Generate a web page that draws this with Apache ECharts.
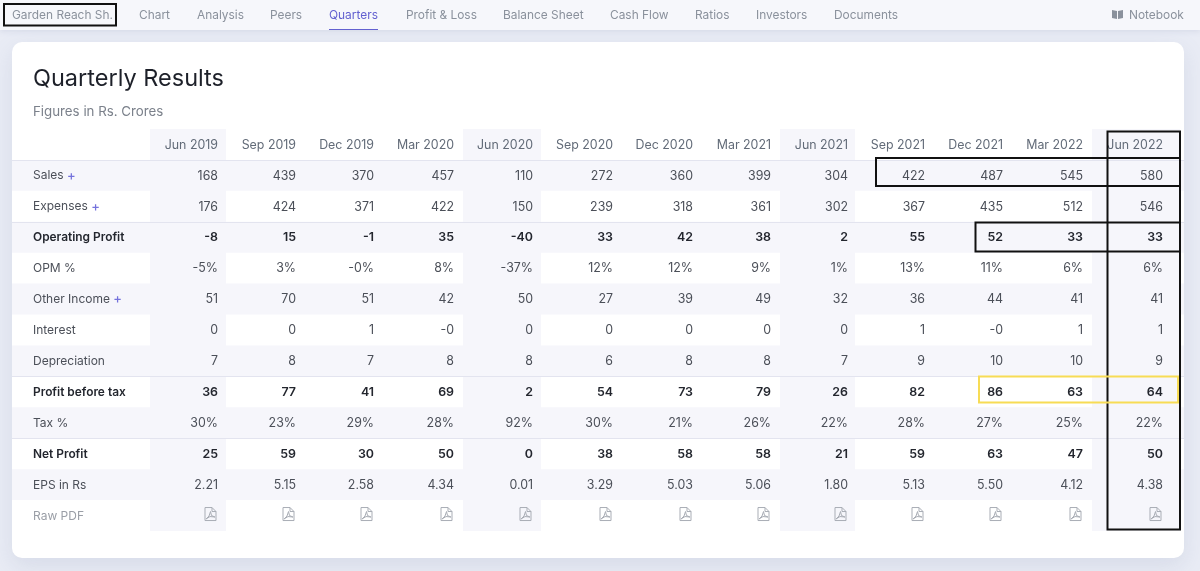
<!DOCTYPE html>
<html>
<head>
<meta charset="utf-8">
<style>
html, body { margin: 0; padding: 0; background: #e9ecf5; }
#main { width: 1200px; height: 571px; }
</style>
<script src="https://cdn.jsdelivr.net/npm/echarts@6/dist/echarts.min.js"></script>
</head>
<body>
<div id="main"></div>
<script>
// table content
const quarters = ["Jun 2019", "Sep 2019", "Dec 2019", "Mar 2020", "Jun 2020", "Sep 2020", "Dec 2020", "Mar 2021", "Jun 2021", "Sep 2021", "Dec 2021", "Mar 2022", "Jun 2022"];
const sales = ["168", "439", "370", "457", "110", "272", "360", "399", "304", "422", "487", "545", "580"];
const expenses = ["176", "424", "371", "422", "150", "239", "318", "361", "302", "367", "435", "512", "546"];
const operatingProfit = ["-8", "15", "-1", "35", "-40", "33", "42", "38", "2", "55", "52", "33", "33"];
const opmPct = ["-5%", "3%", "-0%", "8%", "-37%", "12%", "12%", "9%", "1%", "13%", "11%", "6%", "6%"];
const otherIncome = ["51", "70", "51", "42", "50", "27", "39", "49", "32", "36", "44", "41", "41"];
const interest = ["0", "0", "1", "-0", "0", "0", "0", "0", "0", "1", "-0", "1", "1"];
const depreciation = ["7", "8", "7", "8", "8", "6", "8", "8", "7", "9", "10", "10", "9"];
const profitBeforeTax = ["36", "77", "41", "69", "2", "54", "73", "79", "26", "82", "86", "63", "64"];
const taxPct = ["30%", "23%", "29%", "28%", "92%", "30%", "21%", "26%", "22%", "28%", "27%", "25%", "22%"];
const netProfit = ["25", "59", "30", "50", "0", "38", "58", "58", "21", "59", "63", "47", "50"];
const epsInRs = ["2.21", "5.15", "2.58", "4.34", "0.01", "3.29", "5.03", "5.06", "1.80", "5.13", "5.50", "4.12", "4.38"];
const rowNames = ["Sales", "Expenses", "Operating Profit", "OPM %", "Other Income", "Interest", "Depreciation", "Profit before tax", "Tax %", "Net Profit", "EPS in Rs", "Raw PDF"];
const rowValues = [sales, expenses, operatingProfit, opmPct, otherIncome, interest, depreciation, profitBeforeTax, taxPct, netProfit, epsInRs];
const navItems = ["Chart", "Analysis", "Peers", "Quarters", "Profit & Loss", "Balance Sheet", "Cash Flow", "Ratios", "Investors", "Documents"];

// layout
const navX = [139, 197, 270, 329, 406, 503, 610, 695, 756, 834];
const colRight = [218, 296, 374, 454, 533, 613, 693, 771, 848, 925, 1003, 1083, 1163];
const bands = [[150, 226], [463, 541], [780, 855], [1092, 1180]];
const stripedRows = ["Sales", "Operating Profit", "Other Income", "Depreciation", "Tax %", "EPS in Rs"];
const boldRows = ["Operating Profit", "Profit before tax", "Net Profit"];
const plusRows = ["Sales", "Expenses", "Other Income"];
const ruleAbove = ["Sales", "Operating Profit", "Profit before tax", "Net Profit"];
const yCats = ["header"].concat(rowNames);

const FONT = "Inter, 'Noto Sans', sans-serif";

function cellData() {
    let out = [];
    quarters.forEach((q, c) => out.push([c, "header", q]));
    rowValues.forEach((vals, r) => {
        vals.forEach((v, c) => out.push([c, rowNames[r], v]));
    });
    return out;
}

function renderStripe(params, api) {
    const p = api.coord([12, api.value(0)]);
    const h = api.size([0, 1])[1];
    return {type: "rect", shape: {x: 12, y: p[1] - h / 2, width: 1172, height: h}, style: {fill: "#f6f6fb"}};
}

function renderBand(params, api) {
    const top = api.coord([api.value(0), 0]);
    const bottom = api.coord([api.value(1), yCats.length - 1]);
    const h = api.size([0, 1])[1];
    return {
        type: "rect",
        shape: {x: top[0], y: top[1] - h / 2, width: bottom[0] - top[0], height: bottom[1] - top[1] + h},
        style: {fill: "#f6f6fb"}
    };
}

function renderRule(params, api) {
    const p = api.coord([12, api.value(0)]);
    const h = api.size([0, 1])[1];
    const y = Math.round(p[1] - h / 2) + 0.5;
    return {type: "line", shape: {x1: 12, y1: y, x2: 1184, y2: y}, style: {stroke: "#e3e4ef", lineWidth: 1}};
}

function renderCell(params, api) {
    const d = params.dataIndex;
    const item = cells[d];
    const p = api.coord([colRight[item[0]], item[1]]);
    const isHeader = item[1] === "header";
    const bold = boldRows.indexOf(item[1]) >= 0;
    return {
        type: "text",
        style: {
            text: item[2],
            x: p[0],
            y: p[1] + 0.5,
            textAlign: "right",
            textVerticalAlign: "middle",
            font: (bold ? "600 12.4px " : "400 12.4px ") + FONT,
            fill: isHeader ? "#626b78" : bold ? "#23262e" : "#4b4f58"
        }
    };
}

function renderRowName(params, api) {
    const name = rowNames[params.dataIndex];
    const p = api.coord([33, name]);
    const bold = boldRows.indexOf(name) >= 0;
    const hasPlus = plusRows.indexOf(name) >= 0;
    return {
        type: "text",
        style: {
            text: hasPlus ? name + " {plus|+}" : name,
            x: p[0],
            y: p[1] + 0.5,
            textAlign: "left",
            textVerticalAlign: "middle",
            font: (bold ? "600 11.9px " : "400 12px ") + FONT,
            fill: name === "Raw PDF" ? "#9a9ea6" : bold ? "#23262e" : "#4b4f58",
            rich: {plus: {font: "500 13px " + FONT, fill: "#7472dc"}}
        }
    };
}

function renderPdf(params, api) {
    const p = api.coord([colRight[params.dataIndex] - 13, "Raw PDF"]);
    const x = p[0];
    const y = p[1] - 8;
    const stroke = {stroke: "#a9adb5", lineWidth: 1, fill: "none"};
    return {
        type: "group",
        children: [
            {type: "polyline", shape: {points: [[x + 7, y], [x, y], [x, y + 13], [x + 11, y + 13], [x + 11, y + 4], [x + 7, y], [x + 7, y + 4], [x + 11, y + 4]]}, style: stroke},
            {type: "polyline", shape: {points: [[x + 1, y + 11.5], [x + 4, y + 8.5], [x + 5.5, y + 4], [x + 6.5, y + 8], [x + 10, y + 9.5], [x + 5, y + 9], [x + 1, y + 11.5]]}, style: stroke}
        ]
    };
}

const cells = cellData();

const chart = echarts.init(document.querySelector("#main"));

const navGraphics = navItems.map((name, i) => ({
    type: "text",
    z: 5,
    style: {
        text: name,
        x: navX[i],
        y: 15,
        textVerticalAlign: "middle",
        font: "400 11.9px " + FONT,
        fill: name === "Quarters" ? "#6361d0" : "#8a919c"
    }
}));

function box(x, y, w, h, color) {
    return {type: "rect", z: 20, shape: {x: x, y: y, width: w, height: h}, style: {fill: "none", stroke: color, lineWidth: 2}};
}

const option = {
    animation: false,
    backgroundColor: "#e9ecf5",
    title: [
        {text: "Quarterly Results", left: 28, top: 62, textStyle: {fontFamily: FONT, fontSize: 23.5, fontWeight: 400, color: "#1d2029"}},
        {text: "Figures in Rs. Crores", left: 28, top: 100, textStyle: {fontFamily: FONT, fontSize: 13.3, fontWeight: 400, color: "#7b818b"}}
    ],
    grid: {left: 0, top: 129, width: 1200, height: 402},
    xAxis: {type: "value", min: 0, max: 1200, show: false},
    yAxis: {type: "category", data: yCats, inverse: true, show: false},
    graphic: {
        elements: [
            {type: "rect", z: 0, shape: {x: 12, y: 42, width: 1172, height: 516, r: 10}, style: {fill: "#ffffff", shadowBlur: 22, shadowColor: "rgba(120,130,170,0.16)", shadowOffsetY: 8}},
            {type: "rect", z: 1, shape: {x: 0, y: 0, width: 1200, height: 30}, style: {fill: "#f6f7fb", shadowBlur: 6, shadowColor: "rgba(120,130,170,0.18)", shadowOffsetY: 1}},
            {type: "text", z: 5, style: {text: "Garden Reach Sh.", x: 12, y: 15, textVerticalAlign: "middle", font: "400 11.9px " + FONT, fill: "#8a919c"}},
            ...navGraphics,
            {type: "text", z: 5, style: {text: "Notebook", x: 1129, y: 15, textVerticalAlign: "middle", font: "400 11.9px " + FONT, fill: "#8a919c"}},
            {type: "polygon", z: 5, shape: {points: [[1112, 10], [1117, 11], [1117, 19], [1112, 18]]}, style: {fill: "#8a919c"}},
            {type: "polygon", z: 5, shape: {points: [[1118, 11], [1123, 10], [1123, 18], [1118, 19]]}, style: {fill: "#8a919c"}},
            {type: "rect", z: 5, shape: {x: 329, y: 29, width: 49, height: 1}, style: {fill: "#6361d0"}},
            box(4, 4, 112, 21.5, "#111111"),
            box(876, 158, 304, 28, "#111111"),
            box(975.5, 222.5, 204.5, 29, "#111111"),
            box(1107.5, 131.5, 72.5, 398, "#111111"),
            box(979, 376.5, 199, 26, "#f7dc55")
        ]
    },
    series: [
        {type: "custom", z: 2, coordinateSystem: "cartesian2d", data: stripedRows.map(n => [yCats.indexOf(n)]), encode: {y: 0}, renderItem: renderStripe, silent: true},
        {type: "custom", z: 2, coordinateSystem: "cartesian2d", data: bands, encode: {x: [0, 1]}, renderItem: renderBand, silent: true},
        {type: "custom", z: 3, coordinateSystem: "cartesian2d", data: ruleAbove.map(n => [yCats.indexOf(n)]), encode: {y: 0}, renderItem: renderRule, silent: true},
        {type: "custom", z: 4, coordinateSystem: "cartesian2d", data: cells.map((c, i) => [i]), renderItem: renderCell, silent: true},
        {type: "custom", z: 4, coordinateSystem: "cartesian2d", data: rowNames.map((n, i) => [i]), renderItem: renderRowName, silent: true},
        {type: "custom", z: 4, coordinateSystem: "cartesian2d", data: colRight.map((x, i) => [i]), renderItem: renderPdf, silent: true}
    ]
};

chart.setOption(option);
</script>
</body>
</html>
